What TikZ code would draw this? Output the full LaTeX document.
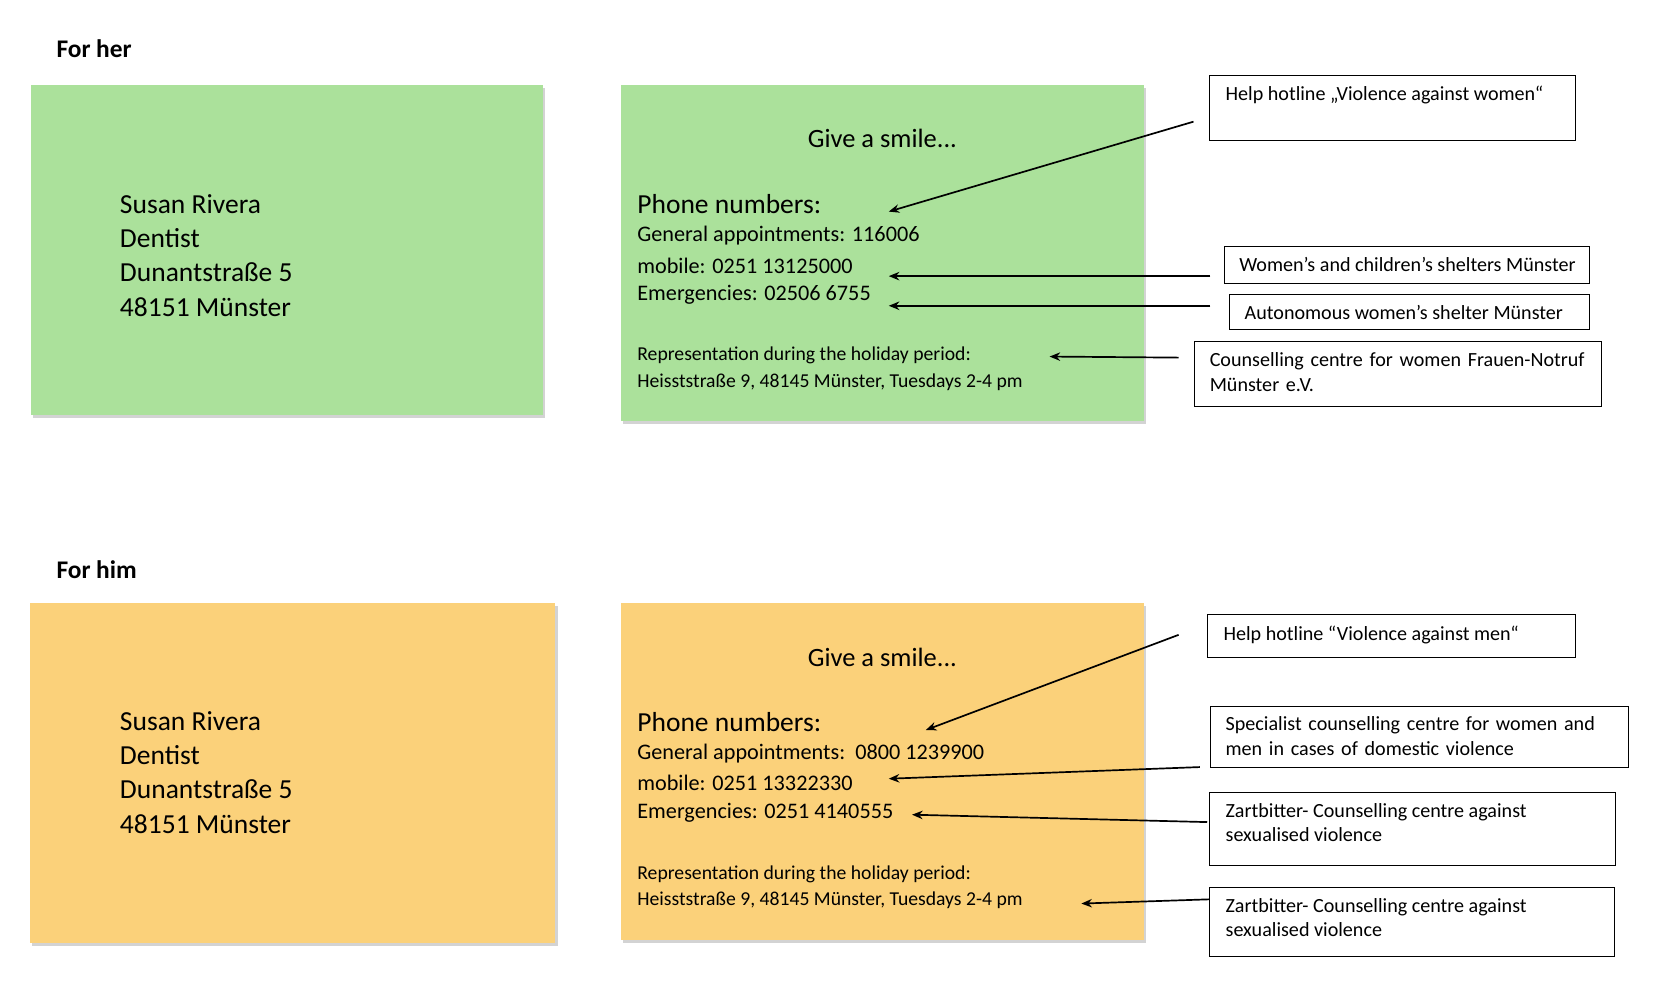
\documentclass[tikz,border=0pt]{standalone}
\usepackage{fontspec}
\setmainfont{Carlito}
\usetikzlibrary{arrows.meta,shadows}
\definecolor{grn}{HTML}{ABE19B}
\definecolor{org}{HTML}{FBD17A}
\begin{document}
\begin{tikzpicture}[x=0.5pt,y=-0.5pt,
 card/.style={draw=none,drop shadow={shadow xshift=1pt,shadow yshift=-1.5pt,opacity=0.35}},
 big/.style={anchor=west,inner sep=0,font=\fontsize{13}{15}\selectfont},
 mid/.style={anchor=west,inner sep=0,font=\fontsize{10.5}{13}\selectfont},
 sm/.style={anchor=west,inner sep=0,font=\fontsize{9.3}{12}\selectfont},
 lab/.style={anchor=north west,inner sep=0,font=\fontsize{9.5}{11.5}\selectfont},
 ttl/.style={anchor=west,inner sep=0,font=\bfseries\fontsize{12}{14}\selectfont},
 box/.style={draw,line width=0.5pt},
 arr/.style={-{Stealth[length=5pt,width=4pt]},line width=0.8pt}]
\useasboundingbox (0,0) rectangle (1568,951);
% upper
\node[ttl] (t1) at (53,46) {For her};
\fill[grn,card] (29,80) rectangle (513,392);
\fill[grn,card] (587,80) rectangle (1081,398);
\node[big] (a1) at (113,193) {Susan Rivera};
\node[big] (a2) at (113,225) {Dentist};
\node[big] (a3) at (113,257) {Dunantstraße 5};
\node[big] (a4) at (113,290) {48151 Münster};
\node[inner sep=0,font=\fontsize{12.5}{14}\selectfont] (g1) at (834,131) {Give a smile...};
\node[big] (p1) at (602,193) {Phone numbers:};
\node[mid] (p2) at (602,223) {General appointments: 116006};
\node[mid] (p3) at (602,251) {mobile: 0251 13125000};
\node[mid] (p4) at (602,279) {Emergencies: 02506 6755};
\node[sm] (r1) at (602,336) {Representation during the holiday period:};
\node[sm] (r2) at (602,361) {Heisststraße 9, 48145 Münster, Tuesdays 2-4 pm};
\draw[box] (1143,71) rectangle (1489,133);
\node[lab] (bA) at (1158,81) {Help hotline „Violence against women“};
\draw[box] (1157,233) rectangle (1502,268);
\node[lab] (bB) at (1171,243) {Women's and children's shelters Münster};
\draw[box] (1162,278) rectangle (1502,311);
\node[lab] (bC) at (1176,288) {Autonomous women's shelter Münster};
\draw[box] (1129,323) rectangle (1514,384);
\node[lab,text width=178pt] (bD) at (1143,333) {Counselling centre for women Frauen-Notruf Münster e.V.};
\coordinate (s1) at (1128,115); \coordinate (e1) at (840,200);
\coordinate (s2) at (1144,261); \coordinate (e2) at (840,261);
\coordinate (s3) at (1144,289); \coordinate (e3) at (840,289);
\coordinate (s4) at (1114,338); \coordinate (e4) at (992,337);
\draw[arr] (s1)--(e1); \draw[arr] (s2)--(e2); \draw[arr] (s3)--(e3); \draw[arr] (s4)--(e4);
% lower
\node[ttl] (t2) at (53,538) {For him};
\fill[org,card] (28,570) rectangle (525,891);
\fill[org,card] (587,570) rectangle (1081,888);
\node[big] (c1) at (113,682) {Susan Rivera};
\node[big] (c2) at (113,714) {Dentist};
\node[big] (c3) at (113,746) {Dunantstraße 5};
\node[big] (c4) at (113,779) {48151 Münster};
\node[inner sep=0,font=\fontsize{12.5}{14}\selectfont] (g2) at (834,621) {Give a smile...};
\node[big] (q1) at (602,682) {Phone numbers:};
\node[mid] (q2) at (602,712) {General appointments:\ \ 0800 1239900};
\node[mid] (q3) at (602,740) {mobile: 0251 13322330};
\node[mid] (q4) at (602,768) {Emergencies: 0251 4140555};
\node[sm] (u1) at (602,826) {Representation during the holiday period:};
\node[sm] (u2) at (602,851) {Heisststraße 9, 48145 Münster, Tuesdays 2-4 pm};
\draw[box] (1141,581) rectangle (1489,621);
\node[lab] (bE) at (1156,591) {Help hotline “Violence against men“};
\draw[box] (1144,668) rectangle (1539,725);
\node[lab,text width=183pt] (bF) at (1158,677) {Specialist counselling centre for women and men in cases of domestic violence};
\draw[box] (1143,749) rectangle (1527,818);
\node[lab] (bG) at (1158,759) {\shortstack[l]{Zartbitter- Counselling centre against\\sexualised violence}};
\draw[box] (1143,839) rectangle (1526,904);
\node[lab] (bH) at (1158,849) {\shortstack[l]{Zartbitter- Counselling centre against\\sexualised violence}};
\coordinate (s5) at (1114,600); \coordinate (e5) at (875,690);
\coordinate (s6) at (1134,725); \coordinate (e6) at (840,736);
\coordinate (s7) at (1141,777); \coordinate (e7) at (862,770);
\coordinate (s8) at (1143,850); \coordinate (e8) at (1022,854);
\draw[arr] (s5)--(e5); \draw[arr] (s6)--(e6); \draw[arr] (s7)--(e7); \draw[arr] (s8)--(e8);
\end{tikzpicture}
\end{document}
